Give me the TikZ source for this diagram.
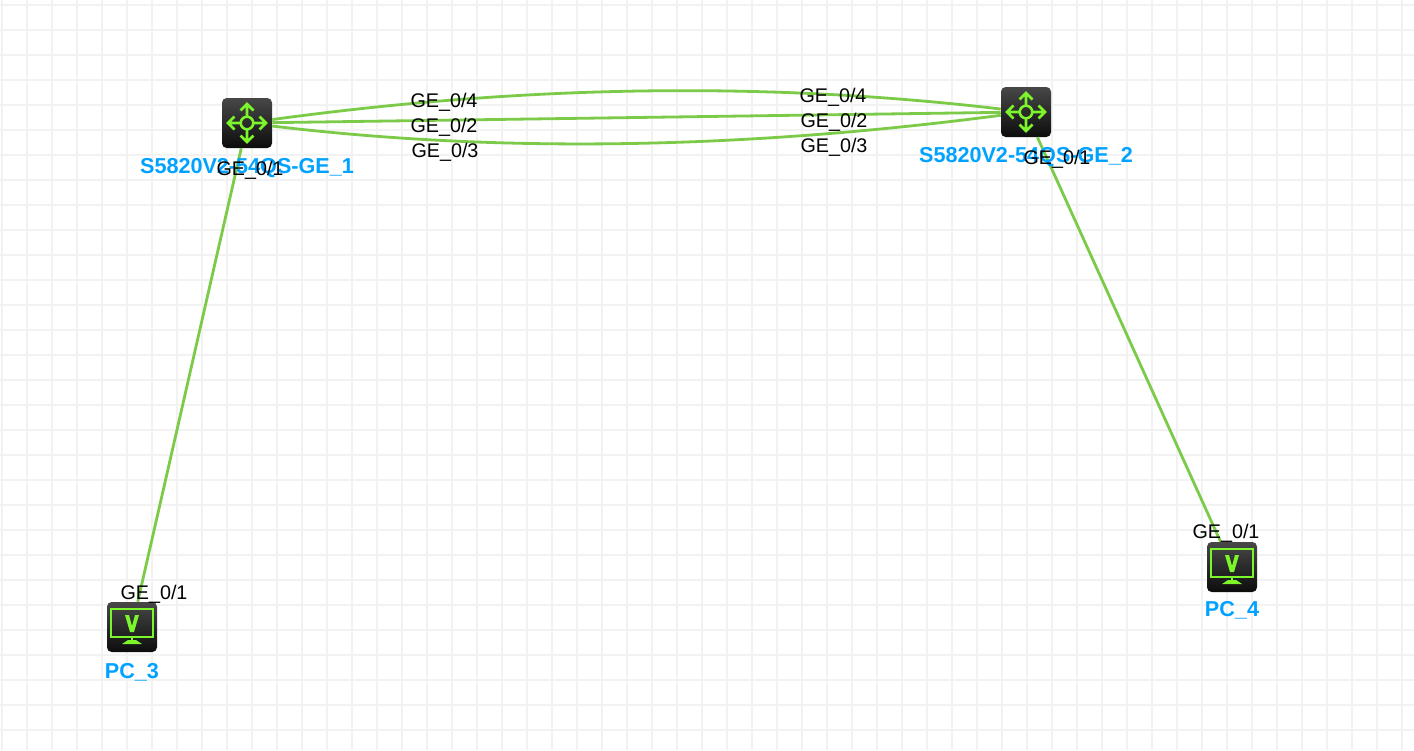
\documentclass[tikz,border=0pt]{standalone}
\usepackage{fontspec}
\setmainfont{Liberation Sans}
\usepackage{xcolor}
\usetikzlibrary{positioning,arrows,calc}
\definecolor{linkgreen}{HTML}{7BCB48}
\definecolor{icongreen}{HTML}{7CF52A}
\definecolor{namecolor}{HTML}{00A2FF}
\definecolor{gridcolor}{HTML}{F2F2F2}
\newcommand{\switchglyph}{%
    \begin{scope}[shift={(path picture bounding box.center)},icongreen,line width=1.9pt,sharp corners]
        \draw (0,0) circle (6.3);
        \draw (6.3,0) -- (18,0) (12.5,-6.5) -- (19,0) -- (12.5,6.5);
        \draw (-6.3,0) -- (-18,0) (-12.5,-6.5) -- (-19,0) -- (-12.5,6.5);
        \draw (0,6.3) -- (0,18) (-6.5,12.5) -- (0,19) -- (6.5,12.5);
        \draw (0,-6.3) -- (0,-18) (-6.5,-12.5) -- (0,-19) -- (6.5,-12.5);
    \end{scope}}
\newcommand{\pcglyph}{%
    \begin{scope}[shift={(path picture bounding box.center)},icongreen,sharp corners]
        \draw[line width=1.6pt] (-21,-18) rectangle (21,10);
        \fill (-7,-12) -- (-3,-12) -- (0,-1) -- (3,-12) -- (7,-12) -- (2,5) -- (-2,5) -- cycle;
        \fill (-1,10) rectangle (1,13);
        \fill (-4,13) -- (4,13) -- (10,17) -- (-10,17) -- cycle;
    \end{scope}}
\tikzset{netlink/.style={draw=linkgreen,line width=2.1pt},
    device/.style={rectangle,rounded corners=3.5pt,minimum size=37.5pt,inner sep=0pt,top color=black!72,bottom color=black!95,shading angle=0},
    switchnode/.style={device,path picture={\switchglyph}},
    pcnode/.style={device,path picture={\pcglyph}},
    devname/.style={text=namecolor,font=\bfseries\fontsize{16.2}{18}\selectfont,inner sep=0pt},
    portname/.style={text=black,font=\fontsize{14.8}{17}\selectfont,inner sep=0pt}}
\begin{document}
\begin{tikzpicture}[x=0.75pt,y=-0.75pt]
    \useasboundingbox (0,0) rectangle (1414,750);
    \fill[white] (0,0) rectangle (1414,750);
    \foreach \gx in {0,...,56}
        \draw[gridcolor,line width=1.7pt] ({1.7+25*\gx},0) -- ({1.7+25*\gx},750);
    \foreach \gy in {0,...,29}
        \draw[gridcolor,line width=1.7pt] (0,{5+25*\gy}) -- (1414,{5+25*\gy});

    \node[switchnode] (sw1) at (247,123) {};
    \node[switchnode] (sw2) at (1026,112) {};
    \node[pcnode] (pc3) at (132,627) {};
    \node[pcnode] (pc4) at (1232,567) {};

    \draw[netlink] (sw1) .. controls (540,83) and (780,83) .. (sw2);
    \draw[netlink] (sw1) -- (sw2);
    \draw[netlink] (sw1) .. controls (480,151) and (720,152) .. (sw2);
    \draw[netlink] (sw1) -- (pc3);
    \draw[netlink] (sw2) -- (pc4);

    \node[devname] (name1) at (247,168.5) {S5820V2-54QS-GE\_1};
    \node[devname] (name2) at (1026,157.5) {S5820V2-54QS-GE\_2};
    \node[devname] (name3) at (132,672.5) {PC\_3};
    \node[devname] (name4) at (1232,610.5) {PC\_4};

    \node[portname] (p1a) at (250,170) {GE\_0/1};
    \node[portname] (p1b) at (444,102.5) {GE\_0/4};
    \node[portname] (p1c) at (444,127.5) {GE\_0/2};
    \node[portname] (p1d) at (445,152.5) {GE\_0/3};
    \node[portname] (p2a) at (1057,159) {GE\_0/1};
    \node[portname] (p2b) at (833,97.5) {GE\_0/4};
    \node[portname] (p2c) at (834,122.5) {GE\_0/2};
    \node[portname] (p2d) at (834,147.5) {GE\_0/3};
    \node[portname] (p3a) at (154,594) {GE\_0/1};
    \node[portname] (p4a) at (1226,533) {GE\_0/1};
\end{tikzpicture}
\end{document}
